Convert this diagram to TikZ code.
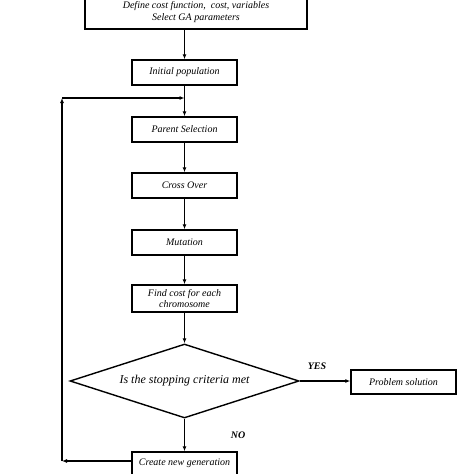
\documentclass[tikz,border=0pt]{standalone}
\usepackage{fontspec}
\setmainfont{Liberation Serif}
\usetikzlibrary{shapes.geometric,arrows.meta}
\begin{document}
\begin{tikzpicture}[x=1pt,y=-1pt,
  stepbox/.style={draw,line width=1.4pt,minimum width=105pt,minimum height=25pt,inner sep=1pt,font=\fontsize{10}{11.5}\selectfont\itshape,align=center},
  dec/.style={draw,diamond,aspect=3.1,line width=1.4pt,minimum width=229pt,minimum height=74pt,inner sep=0pt,font=\fontsize{12}{14}\selectfont\itshape},
  conn/.style={line width=1.2pt,-{Latex[length=5pt,width=4pt]}},
  lbl/.style={font=\fontsize{10}{12}\selectfont\itshape\bfseries}]
\useasboundingbox (0,0) rectangle (474,474);
\begin{scope}
\clip (0,0) rectangle (474,474);
\node[stepbox,minimum width=222pt,minimum height=34pt] (def) at (196,12) {Define cost function,\ \ cost,\ variables\\Select GA parameters};
\node[stepbox] (init) at (184.5,72.5) {Initial population};
\node[stepbox] (par) at (184.5,129.5) {Parent Selection};
\node[stepbox] (cross) at (184.5,185.5) {Cross Over};
\node[stepbox] (mut) at (184.5,242.5) {Mutation};
\node[stepbox,minimum height=27pt] (cost) at (184.5,298.5) {Find cost for each\\chromosome};
\node[dec] (stop) at (184.5,381) {Is the stopping criteria met};
\node[stepbox,minimum height=28pt,text height=7pt,text depth=9pt] (newgen) at (184.5,466) {Create new generation};
\node[stepbox,minimum height=24pt] (sol) at (403.5,382) {Problem solution};
\coordinate (bl) at (62,461);
\coordinate (tl) at (62,98);
\coordinate (tr) at (184.5,98);
\draw[conn] (def.south -| init.north) -- (init.north);
\draw[conn] (init) -- (par);
\draw[conn] (par) -- (cross);
\draw[conn] (cross) -- (mut);
\draw[conn] (mut) -- (cost);
\draw[conn] (cost) -- (stop);
\draw[conn] (stop) -- (newgen);
\draw[conn] (stop.east) -- (sol.west |- stop.east);
\draw[conn] (newgen.west |- bl) -- (bl);
\draw[conn] (bl) -- (tl);
\draw[conn] (tl) -- (tr);
\node[lbl] (yes) at (317,366) {YES};
\node[lbl] (no) at (238,435) {NO};
\end{scope}
\end{tikzpicture}
\end{document}
